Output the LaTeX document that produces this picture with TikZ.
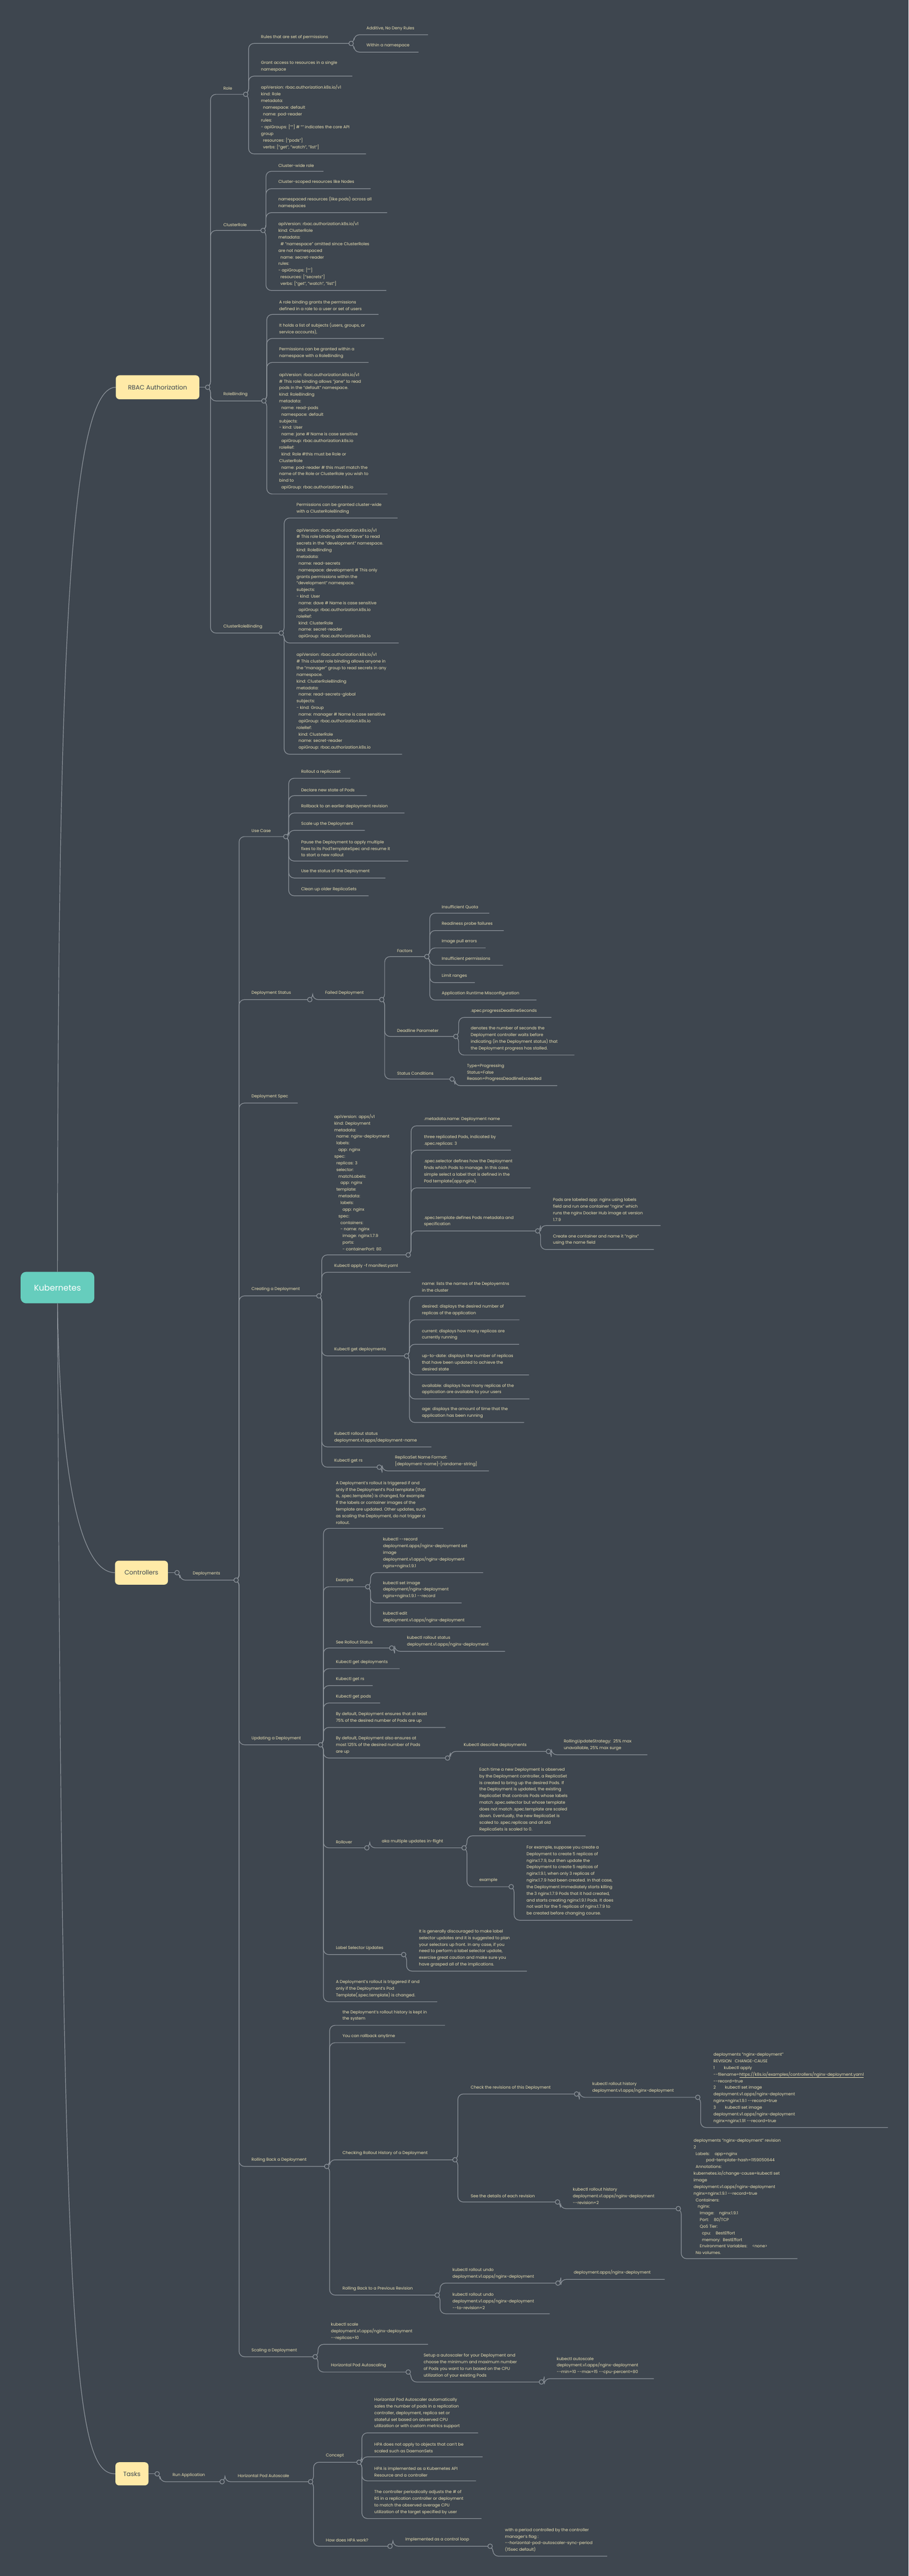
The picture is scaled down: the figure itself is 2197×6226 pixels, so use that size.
\documentclass[tikz,border=0pt]{standalone}
\usepackage{fontspec}
\setmainfont{Poppins}
\definecolor{bg}{HTML}{3E464F}
\definecolor{ln}{HTML}{8E959C}
\definecolor{tx}{HTML}{EDE3B5}
\definecolor{boxy}{HTML}{FFEAA7}
\definecolor{rootc}{HTML}{66CDBD}
\newcommand\ii{\hspace*{5pt}}
\newcommand\dd{-{}-}
\tikzset{
  txt/.style={text=tx, font=\fontsize{10}{16}\selectfont, align=left, inner sep=0pt, anchor=south west},
  conn/.style={draw=ln, line width=1.5pt, rounded corners=13pt},
  knobst/.style={draw=ln, line width=1.5pt, fill=bg},
  mainbox/.style={fill=boxy, rounded corners=9pt, text=bg, font=\fontsize{15}{18}\selectfont, minimum height=58pt, inner sep=0pt},
}
\newcommand\kid[6]{%
  \coordinate (#1) at (#5,#4);
  \node[txt] (#1t) at (#3,#4-10) {#6};
  \draw[conn] (#2) -- ++(7,0) |- (#1);
}
\begin{document}
\begin{tikzpicture}[x=1pt,y=-1pt]
\useasboundingbox[fill=bg] (0,0) rectangle (2197,6226);
% main nodes
\node[fill=rootc, rounded corners=13pt, text=white, font=\fontsize{20}{24}\selectfont, minimum width=178pt, minimum height=76pt, inner sep=0pt] (root) at (139,3112) {Kubernetes};
\node[mainbox, minimum width=202pt] (rbac) at (381,936) {RBAC Authorization};
\node[mainbox, minimum width=128pt] (ctrl) at (342,3801) {Controllers};
\node[mainbox, minimum width=80pt, minimum height=56pt] (tasks) at (319,5979) {Tasks};
\draw[conn] (root.north) .. controls (140,1700) and (160,936) .. (rbac.west);
\draw[conn] (root.south) .. controls (145,3550) and (190,3800) .. (ctrl.west);
\draw[conn] (root.south) .. controls (150,5700) and (180,5979) .. (tasks.west);
\coordinate (rbacc) at (502,936);
\coordinate (ctrlc) at (428,3801);
\coordinate (tasksc) at (380,5979);
\draw[conn] (rbac.east) -- (rbacc);
\draw[conn] (ctrl.east) -- (ctrlc);
\draw[conn] (tasks.east) -- (tasksc);

% ---------- RBAC
\kid{role}{rbacc}{540}{228}{594}{Role}
\kid{rules}{role}{631}{105}{849}{Rules that are set of permissions}
\kid{additive}{rules}{886}{84}{1035}{Additive, No Deny Rules}
\kid{within}{rules}{886}{126}{1012}{Within a namespace}
\kid{grant}{role}{631}{184}{852}{Grant access to resources in a single\\namespace}
\kid{roleyaml}{role}{631}{372}{885}{apiVersion: rbac.authorization.k8s.io/v1\\kind: Role\\metadata:\\\ii namespace: default\\\ii name: pod-reader\\rules:\\- apiGroups: [""] \# "" indicates the core API\\group\\\ii resources: ["pods"]\\\ii verbs: ["get", "watch", "list"]}
\kid{clusterrole}{rbacc}{540}{557}{636}{ClusterRole}
\kid{cwide}{clusterrole}{673}{414}{782}{Cluster-wide role}
\kid{cscoped}{clusterrole}{673}{456}{896}{Cluster-scoped resources like Nodes}
\kid{nsres}{clusterrole}{673}{514}{936}{namespaced resources (like pods) across all\\namespaces}
\kid{cryaml}{clusterrole}{673}{702}{934}{apiVersion: rbac.authorization.k8s.io/v1\\kind: ClusterRole\\metadata:\\\ii \# "namespace" omitted since ClusterRoles\\are not namespaced\\\ii name: secret-reader\\rules:\\- apiGroups: [""]\\\ii resources: ["secrets"]\\\ii verbs: ["get", "watch", "list"]}
\kid{rolebinding}{rbacc}{540}{969}{638}{RoleBinding}
\kid{rbgrant}{rolebinding}{675}{760}{915}{A role binding grants the permissions\\defined in a role to a user or set of users}
\kid{rbholds}{rolebinding}{675}{818}{928}{It holds a list of subjects (users, groups, or\\service accounts),}
\kid{rbperm}{rolebinding}{675}{876}{891}{Permissions can be granted within a\\namespace with a RoleBinding}
\kid{rbyaml}{rolebinding}{675}{1194}{937}{apiVersion: rbac.authorization.k8s.io/v1\\\# This role binding allows "jane" to read\\pods in the "default" namespace.\\kind: RoleBinding\\metadata:\\\ii name: read-pods\\\ii namespace: default\\subjects:\\- kind: User\\\ii name: jane \# Name is case sensitive\\\ii apiGroup: rbac.authorization.k8s.io\\roleRef:\\\ii kind: Role \#this must be Role or\\ClusterRole\\\ii name: pod-reader \# this must match the\\name of the Role or ClusterRole you wish to\\bind to\\\ii apiGroup: rbac.authorization.k8s.io}
\kid{crb}{rbacc}{540}{1530}{680}{ClusterRoleBinding}
\kid{crbperm}{crb}{717}{1252}{961}{Permissions can be granted cluster-wide\\with a ClusterRoleBinding}
\kid{crbyaml1}{crb}{717}{1554}{964}{apiVersion: rbac.authorization.k8s.io/v1\\\# This role binding allows "dave" to read\\secrets in the "development" namespace.\\kind: RoleBinding\\metadata:\\\ii name: read-secrets\\\ii namespace: development \# This only\\grants permissions within the\\"development" namespace.\\subjects:\\- kind: User\\\ii name: dave \# Name is case sensitive\\\ii apiGroup: rbac.authorization.k8s.io\\roleRef:\\\ii kind: ClusterRole\\\ii name: secret-reader\\\ii apiGroup: rbac.authorization.k8s.io}
\kid{crbyaml2}{crb}{717}{1823}{972}{apiVersion: rbac.authorization.k8s.io/v1\\\# This cluster role binding allows anyone in\\the "manager" group to read secrets in any\\namespace.\\kind: ClusterRoleBinding\\metadata:\\\ii name: read-secrets-global\\subjects:\\- kind: Group\\\ii name: manager \# Name is case sensitive\\\ii apiGroup: rbac.authorization.k8s.io\\roleRef:\\\ii kind: ClusterRole\\\ii name: secret-reader\\\ii apiGroup: rbac.authorization.k8s.io}

% ---------- Controllers
\kid{deployments}{ctrlc}{466}{3819}{571}{Deployments}
\kid{usecase}{deployments}{608}{2022}{691}{Use Case}
\kid{uc1}{usecase}{728}{1881}{847}{Rollout a replicaset}
\kid{uc2}{usecase}{728}{1923}{887}{Declare new state of Pods}
\kid{uc3}{usecase}{728}{1965}{978}{Rollback to an earlier deployment revision}
\kid{uc4}{usecase}{728}{2007}{882}{Scale up the Deployment}
\kid{uc5}{usecase}{728}{2081}{987}{Pause the Deployment to apply multiple\\fixes to its PodTemplateSpec and resume it\\to start a new rollout}
\kid{uc6}{usecase}{728}{2122}{932}{Use the status of the Deployment}
\kid{uc7}{usecase}{728}{2165}{891}{Clean up older ReplicaSets}

\kid{dstatus}{deployments}{608}{2416}{749}{Deployment Status}
\kid{failed}{dstatus}{786}{2416}{923}{Failed Deployment}
\kid{factors}{failed}{960}{2312}{1032}{Factors}
\kid{f1}{factors}{1068}{2207}{1183}{Insufficient Quota}
\kid{f2}{factors}{1068}{2249}{1218}{Readiness probe failures}
\kid{f3}{factors}{1068}{2291}{1174}{Image pull errors}
\kid{f4}{factors}{1068}{2333}{1216}{Insufficient permissions}
\kid{f5}{factors}{1068}{2375}{1148}{Limit ranges}
\kid{f6}{factors}{1068}{2417}{1297}{Application Runtime Misconfiguration}
\kid{deadline}{failed}{960}{2505}{1102}{Deadline Parameter}
\kid{dl1}{deadline}{1138}{2459}{1333}{.spec.progressDeadlineSeconds}
\kid{dl2}{deadline}{1138}{2550}{1389}{denotes the number of seconds the\\Deployment controller waits before\\indicating (in the Deployment status) that\\the Deployment progress has stalled.}
\kid{statuscond}{failed}{960}{2608}{1093}{Status Conditions}
\kid{sc1}{statuscond}{1129}{2624}{1347}{Type=Progressing\\Status=False\\Reason=ProgressDeadlineExceeded}

\kid{dspec}{deployments}{608}{2666}{720}{Deployment Spec}

\kid{creating}{deployments}{608}{3132}{771}{Creating a Deployment}
\kid{yamlspec}{creating}{808}{3033}{987}{apiVersion: apps/v1\\kind: Deployment\\metadata:\\\ii name: nginx-deployment\\\ii labels:\\\ii\ii app: nginx\\spec:\\\ii replicas: 3\\\ii selector:\\\ii\ii matchLabels:\\\ii\ii\ii app: nginx\\\ii template:\\\ii\ii metadata:\\\ii\ii\ii labels:\\\ii\ii\ii\ii app: nginx\\\ii\ii spec:\\\ii\ii\ii containers:\\\ii\ii\ii - name: nginx\\\ii\ii\ii\ii image: nginx:1.7.9\\\ii\ii\ii\ii ports:\\\ii\ii\ii\ii - containerPort: 80}
\kid{ys1}{yamlspec}{1025}{2721}{1238}{.metadata.name: Deployment name}
\kid{ys2}{yamlspec}{1025}{2780}{1235}{three replicated Pods, indicated by\\.spec.replicas: 3}
\kid{ys3}{yamlspec}{1025}{2871}{1283}{.spec.selector defines how the Deployment\\finds which Pods to manage. In this case,\\simple select a label that is defined in the\\Pod template(app:nginx).}
\kid{spectemplate}{yamlspec}{1025}{2975}{1300}{.spec.template defines Pods metadata and\\specification}
\kid{st1}{spectemplate}{1337}{2962}{1597}{Pods are labeled app: nginx using labels\\field and run one container "nginx" which\\runs the nginx Docker Hub image at version\\1.7.9}
\kid{st2}{spectemplate}{1337}{3020}{1581}{Create one container and name it "nginx"\\using the name field}
\kid{apply}{creating}{808}{3075}{993}{Kubectl apply -f manifest.yaml}
\kid{getdeps}{creating}{808}{3277}{983}{Kubectl get deployments}
\kid{gd1}{getdeps}{1020}{3133}{1271}{name: lists the names of the Deployemtns\\in the cluster}
\kid{gd2}{getdeps}{1020}{3190}{1256}{desired: displays the desired number of\\replicas of the application}
\kid{gd3}{getdeps}{1020}{3249}{1255}{current: displays how many replicas are\\currently running}
\kid{gd4}{getdeps}{1020}{3323}{1279}{up-to-date: displays the number of replicas\\that have been updated to achieve the\\desired state}
\kid{gd5}{getdeps}{1020}{3381}{1280}{available: displays how many replicas of the\\application are available to your users}
\kid{gd6}{getdeps}{1020}{3438}{1267}{age: displays the amount of time that the\\application has been running}
\kid{rstatus}{creating}{808}{3497}{1043}{Kubectl rollout status\\deployment.v1.apps/deployment-name}
\kid{getrs}{creating}{808}{3546}{917}{Kubectl get rs}
\kid{rsname}{getrs}{955}{3555}{1182}{ReplicaSet Name Format:\\{[}deployment-name{]}-{[}randome-string{]}}

\kid{updating}{deployments}{608}{4217}{775}{Updating a Deployment}
\kid{up1}{updating}{812}{3694}{1072}{A Deployment’s rollout is triggered if and\\only if the Deployment’s Pod template (that\\is, .spec.template) is changed, for example\\if the labels or container images of the\\template are updated. Other updates, such\\as scaling the Deployment, do not trigger a\\rollout.}
\kid{example}{updating}{812}{3835}{889}{Example}
\kid{ex1}{example}{926}{3801}{1168}{kubectl \dd record\\deployment.apps/nginx-deployment set\\image\\deployment.v1.apps/nginx-deployment\\nginx=nginx:1.9.1}
\kid{ex2}{example}{926}{3874}{1116}{kubectl set image\\deployment/nginx-deployment\\nginx=nginx:1.9.1 \dd record}
\kid{ex3}{example}{926}{3932}{1163}{kubectl edit\\deployment.v1.apps/nginx-deployment}
\kid{seerollout}{updating}{812}{3983}{947}{See Rollout Status}
\kid{sr1}{seerollout}{984}{3991}{1221}{kubectl rollout status\\deployment.v1.apps/nginx-deployment}
\kid{up2}{updating}{812}{4033}{966}{Kubectl get deployments}
\kid{up3}{updating}{812}{4074}{901}{Kubectl get rs}
\kid{up4}{updating}{812}{4116}{919}{Kubectl get pods}
\kid{up5}{updating}{812}{4175}{1077}{By default, Deployment ensures that at least\\75\% of the desired number of Pods are up}
\kid{bydef}{updating}{812}{4249}{1082}{By default, Deployment also ensures at\\most 125\% of the desired number of Pods\\are up}
\kid{describe}{bydef}{1121}{4233}{1326}{Kubectl describe deployments}
\kid{rus}{describe}{1363}{4241}{1565}{RollingUpdateStrategy:\ \ 25\% max\\unavailable, 25\% max surge}
\kid{rollover}{updating}{812}{4466}{887}{Rollover}
\kid{aka}{rollover}{923}{4466}{1122}{aka multiple updates in-flight}
\kid{each}{aka}{1159}{4437}{1416}{Each time a new Deployment is observed\\by the Deployment controller, a ReplicaSet\\is created to bring up the desired Pods. If\\the Deployment is updated, the existing\\ReplicaSet that controls Pods whose labels\\match .spec.selector but whose template\\does not match .spec.template are scaled\\down. Eventually, the new ReplicaSet is\\scaled to .spec.replicas and all old\\ReplicaSets is scaled to 0.}
\kid{exampler}{aka}{1159}{4560}{1236}{example}
\kid{forex}{exampler}{1273}{4641}{1529}{For example, suppose you create a\\Deployment to create 5 replicas of\\nginx:1.7.9, but then update the\\Deployment to create 5 replicas of\\nginx:1.9.1, when only 3 replicas of\\nginx:1.7.9 had been created. In that case,\\the Deployment immediately starts killing\\the 3 nginx:1.7.9 Pods that it had created,\\and starts creating nginx:1.9.1 Pods. It does\\not wait for the 5 replicas of nginx:1.7.9 to\\be created before changing course.}
\kid{labelsel}{updating}{812}{4724}{976}{Label Selector Updates}
\kid{ls1}{labelsel}{1013}{4764}{1274}{It is generally discouraged to make label\\selector updates and it is suggested to plan\\your selectors up front. In any case, if you\\need to perform a label selector update,\\exercise great caution and make sure you\\have grasped all of the implications.}
\kid{up6}{updating}{812}{4838}{1057}{A Deployment's rollout is triggered if and\\only if the Deployment's Pod\\Template(.spec.template) is changed.}

\kid{rollingback}{deployments}{608}{5236}{790}{Rolling Back a Deployment}
\kid{rb1}{rollingback}{828}{4895}{1076}{the Deployment's rollout history is kept in\\the system}
\kid{rb2}{rollingback}{828}{4937}{980}{You can rollback anytime}
\kid{checkhist}{rollingback}{828}{5220}{1100}{Checking Rollout History of a Deployment}
\kid{checkrev}{checkhist}{1138}{5061}{1394}{Check the revisions of this Deployment}
\kid{histcmd}{checkrev}{1432}{5069}{1687}{kubectl rollout history\\deployment.v1.apps/nginx-deployment}
\kid{histout}{histcmd}{1725}{5142}{2147}{deployments "nginx-deployment"\\REVISION\hspace*{8pt}CHANGE-CAUSE\\1\hspace*{22pt}kubectl apply\\\dd filename=\underline{https://k8s.io/examples/controllers/nginx-deployment.yaml}\\\dd record=true\\2\hspace*{22pt}kubectl set image\\deployment.v1.apps/nginx-deployment\\nginx=nginx:1.9.1 \dd record=true\\3\hspace*{22pt}kubectl set image\\deployment.v1.apps/nginx-deployment\\nginx=nginx:1.91 \dd record=true}
\kid{seedetails}{checkhist}{1138}{5322}{1348}{See the details of each revision}
\kid{histrev}{seedetails}{1385}{5338}{1640}{kubectl rollout history\\deployment.v1.apps/nginx-deployment\\\dd revision=2}
\kid{revout}{histrev}{1677}{5459}{1928}{deployments "nginx-deployment" revision\\2\\\ii Labels:\hspace*{12pt}app=nginx\\\hspace*{30pt}pod-template-hash=1159050644\\\ii Annotations:\\kubernetes.io/change-cause=kubectl set\\image\\deployment.v1.apps/nginx-deployment\\nginx=nginx:1.9.1 \dd record=true\\\ii Containers:\\\ii\ii nginx:\\\ii\ii\ii Image:\hspace*{12pt}nginx:1.9.1\\\ii\ii\ii Port:\hspace*{12pt}80/TCP\\\ii\ii\ii QoS Tier:\\\ii\ii\ii\ii cpu:\hspace*{12pt}BestEffort\\\ii\ii\ii\ii memory:\hspace*{6pt}BestEffort\\\ii\ii\ii Environment Variables:\hspace*{12pt}<none>\\\ii No volumes.}
\kid{rollprev}{rollingback}{828}{5547}{1057}{Rolling Back to a Previous Revision}
\kid{undo1}{rollprev}{1094}{5518}{1349}{kubectl rollout undo\\deployment.v1.apps/nginx-deployment}
\kid{undoout}{undo1}{1387}{5509}{1607}{deployment.apps/nginx-deployment}
\kid{undo2}{rollprev}{1094}{5592}{1329}{kubectl rollout undo\\deployment.v1.apps/nginx-deployment\\\dd to-revision=2}

\kid{scaling}{deployments}{608}{5696}{762}{Scaling a Deployment}
\kid{scale1}{scaling}{800}{5666}{1035}{kubectl scale\\deployment.v1.apps/nginx-deployment\\\dd replicas=10}
\kid{hpa}{scaling}{800}{5733}{987}{Horizontal Pod Autoscaling}
\kid{setup}{hpa}{1024}{5757}{1309}{Setup a autoscaler for your Deployment and\\choose the minimum and maximum number\\of Pods you want to run based on the CPU\\utilization of your existing Pods}
\kid{autoscale}{setup}{1346}{5749}{1581}{kubectl autoscale\\deployment.v1.apps/nginx-deployment\\\dd min=10 \dd max=15 \dd cpu-percent=80}

% ---------- Tasks
\kid{runapp}{tasksc}{417}{5998}{537}{Run Application}
\kid{hpascale}{runapp}{575}{5998}{751}{Horizontal Pod Autoscale}
\kid{concept}{hpascale}{788}{5951}{868}{Concept}
\kid{c1}{concept}{905}{5880}{1156}{Horizontal Pod Autoscaler automatically\\sales the number of pods in a replication\\controller, deployment, replica set or\\stateful set based on observed CPU\\utilization or with custom metrics support}
\kid{c2}{concept}{905}{5938}{1167}{HPA does not apply to objects that can't be\\scaled such as DaemonSets}
\kid{c3}{concept}{905}{5996}{1151}{HPA is implemented as a Kubernetes API\\Resource and a controller}
\kid{c4}{concept}{905}{6087}{1164}{The controller periodically adjusts the \# of\\RS in a replication controller or deployment\\to match the observed average CPU\\utilization of the target specified by user}
\kid{howhpa}{hpascale}{788}{6154}{943}{How does HPA work?}
\kid{ctrlloop}{howhpa}{980}{6154}{1185}{Implemented as a control loop}
\kid{period}{ctrlloop}{1221}{6178}{1468}{with a period controlled by the controller\\manager's flag :\\\dd horizontal-pod-autoscaler-sync-period\\(15sec default)}

% knobs
\foreach \k in {rbacc,ctrlc,tasksc,role,rules,clusterrole,rolebinding,crb,deployments,usecase,dstatus,failed,factors,deadline,statuscond,creating,yamlspec,spectemplate,getdeps,getrs,updating,example,seerollout,bydef,describe,rollover,aka,exampler,labelsel,rollingback,checkhist,checkrev,histcmd,seedetails,histrev,rollprev,undo1,scaling,hpa,setup,runapp,hpascale,concept,howhpa,ctrlloop}
  \draw[knobst] (\k) circle (5.5pt);
\end{tikzpicture}
\end{document}
